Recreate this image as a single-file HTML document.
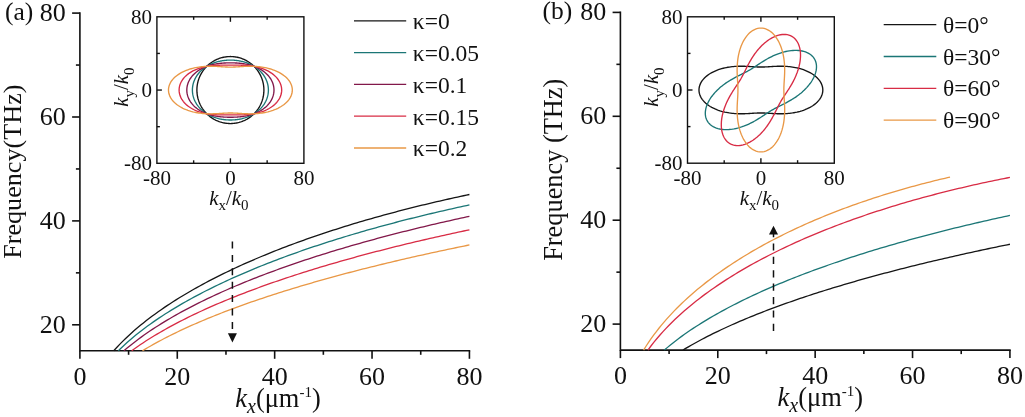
<!DOCTYPE html>
<html><head><meta charset="utf-8"><style>
html,body{margin:0;padding:0;background:#fff;}
svg{display:block;}
text{font-family:'Liberation Serif','Times New Roman',serif;fill:#111;}
.t25{font-size:26px;}
.t26{font-size:26.4px;}
.t20{font-size:21px;}
.t21{font-size:20.8px;}
.t22{font-size:23.5px;}
</style></head><body>
<svg width="1025" height="417" viewBox="0 0 1025 417">
<rect width="1025" height="417" fill="#fff"/>
<path d="M79.90,12.30 V350.80 H470.22" fill="none" stroke="#111" stroke-width="1.6" stroke-linejoin="miter"/>
<line x1="72.10" y1="13.10" x2="79.90" y2="13.10" stroke="#111" stroke-width="1.6"/>
<text x="65.70" y="21.10" text-anchor="end" class="t25">80</text>
<line x1="72.10" y1="117.00" x2="79.90" y2="117.00" stroke="#111" stroke-width="1.6"/>
<text x="65.70" y="125.00" text-anchor="end" class="t25">60</text>
<line x1="72.10" y1="220.90" x2="79.90" y2="220.90" stroke="#111" stroke-width="1.6"/>
<text x="65.70" y="228.90" text-anchor="end" class="t25">40</text>
<line x1="72.10" y1="324.80" x2="79.90" y2="324.80" stroke="#111" stroke-width="1.6"/>
<text x="65.70" y="332.80" text-anchor="end" class="t25">20</text>
<line x1="75.90" y1="65.05" x2="79.90" y2="65.05" stroke="#111" stroke-width="1.6"/>
<line x1="75.90" y1="168.95" x2="79.90" y2="168.95" stroke="#111" stroke-width="1.6"/>
<line x1="75.90" y1="272.85" x2="79.90" y2="272.85" stroke="#111" stroke-width="1.6"/>
<line x1="79.90" y1="350.80" x2="79.90" y2="358.80" stroke="#111" stroke-width="1.6"/>
<text x="79.90" y="384.80" text-anchor="middle" class="t25">0</text>
<line x1="177.28" y1="350.80" x2="177.28" y2="358.80" stroke="#111" stroke-width="1.6"/>
<text x="177.28" y="384.80" text-anchor="middle" class="t25">20</text>
<line x1="274.66" y1="350.80" x2="274.66" y2="358.80" stroke="#111" stroke-width="1.6"/>
<text x="274.66" y="384.80" text-anchor="middle" class="t25">40</text>
<line x1="372.04" y1="350.80" x2="372.04" y2="358.80" stroke="#111" stroke-width="1.6"/>
<text x="372.04" y="384.80" text-anchor="middle" class="t25">60</text>
<line x1="469.42" y1="350.80" x2="469.42" y2="358.80" stroke="#111" stroke-width="1.6"/>
<text x="469.42" y="384.80" text-anchor="middle" class="t25">80</text>
<line x1="128.59" y1="350.80" x2="128.59" y2="354.80" stroke="#111" stroke-width="1.6"/>
<line x1="225.97" y1="350.80" x2="225.97" y2="354.80" stroke="#111" stroke-width="1.6"/>
<line x1="323.35" y1="350.80" x2="323.35" y2="354.80" stroke="#111" stroke-width="1.6"/>
<line x1="420.73" y1="350.80" x2="420.73" y2="354.80" stroke="#111" stroke-width="1.6"/>
<text x="4.90" y="19.80" class="t26" style="font-size:25.5px">(a)</text>
<text transform="translate(21.20,171.70) rotate(-90)" text-anchor="middle" class="t26" style="font-size:26.17px">Frequency(THz)</text>
<text x="278.00" y="407.00" text-anchor="middle" class="t26"><tspan font-style="italic">k</tspan><tspan font-style="italic" font-size="20" dy="6">x</tspan><tspan dy="-6">(μm</tspan><tspan font-size="15" dy="-10">-1</tspan><tspan dy="10">)</tspan></text>
<path d="M113.75,350.78 L116.71,347.51 L119.67,344.38 L122.64,341.37 L125.60,338.48 L128.57,335.68 L131.53,332.98 L134.49,330.36 L137.46,327.81 L140.42,325.34 L143.39,322.94 L146.35,320.60 L149.31,318.31 L152.28,316.08 L155.24,313.91 L158.21,311.78 L161.17,309.69 L164.13,307.66 L167.10,305.66 L170.06,303.70 L173.03,301.78 L175.99,299.90 L178.95,298.05 L181.92,296.23 L184.88,294.45 L187.85,292.69 L190.81,290.97 L193.77,289.27 L196.74,287.60 L199.70,285.96 L202.66,284.34 L205.63,282.74 L208.59,281.17 L211.56,279.63 L214.52,278.10 L217.48,276.60 L220.45,275.11 L223.41,273.65 L226.38,272.21 L229.34,270.79 L232.30,269.38 L235.27,268.00 L238.23,266.63 L241.20,265.28 L244.16,263.94 L247.12,262.62 L250.09,261.32 L253.05,260.03 L256.02,258.76 L258.98,257.51 L261.94,256.27 L264.91,255.04 L267.87,253.83 L270.84,252.63 L273.80,251.44 L276.76,250.27 L279.73,249.11 L282.69,247.96 L285.66,246.83 L288.62,245.71 L291.58,244.60 L294.55,243.50 L297.51,242.41 L300.48,241.34 L303.44,240.27 L306.40,239.22 L309.37,238.18 L312.33,237.15 L315.29,236.13 L318.26,235.12 L321.22,234.12 L324.19,233.12 L327.15,232.14 L330.11,231.17 L333.08,230.21 L336.04,229.26 L339.01,228.32 L341.97,227.38 L344.93,226.46 L347.90,225.54 L350.86,224.64 L353.83,223.74 L356.79,222.85 L359.75,221.97 L362.72,221.09 L365.68,220.23 L368.65,219.37 L371.61,218.52 L374.57,217.68 L377.54,216.85 L380.50,216.02 L383.47,215.21 L386.43,214.40 L389.39,213.59 L392.36,212.80 L395.32,212.01 L398.29,211.23 L401.25,210.46 L404.21,209.69 L407.18,208.93 L410.14,208.18 L413.11,207.44 L416.07,206.70 L419.03,205.96 L422.00,205.24 L424.96,204.52 L427.92,203.81 L430.89,203.10 L433.85,202.40 L436.82,201.71 L439.78,201.02 L442.74,200.34 L445.71,199.67 L448.67,199.00 L451.64,198.34 L454.60,197.68 L457.56,197.03 L460.53,196.39 L463.49,195.75 L466.46,195.12 L469.42,194.49" fill="none" stroke="#151515" stroke-width="1.3"/>
<path d="M118.30,350.78 L121.22,347.92 L124.15,345.18 L127.07,342.53 L130.00,339.97 L132.93,337.48 L135.85,335.07 L138.78,332.73 L141.70,330.45 L144.63,328.23 L147.56,326.07 L150.48,323.96 L153.41,321.89 L156.33,319.87 L159.26,317.90 L162.19,315.97 L165.11,314.07 L168.04,312.21 L170.96,310.39 L173.89,308.60 L176.82,306.84 L179.74,305.12 L182.67,303.42 L185.60,301.75 L188.52,300.11 L191.45,298.50 L194.37,296.91 L197.30,295.34 L200.23,293.80 L203.15,292.28 L206.08,290.78 L209.00,289.31 L211.93,287.85 L214.86,286.42 L217.78,285.00 L220.71,283.60 L223.63,282.23 L226.56,280.86 L229.49,279.52 L232.41,278.19 L235.34,276.88 L238.26,275.59 L241.19,274.31 L244.12,273.04 L247.04,271.80 L249.97,270.56 L252.89,269.34 L255.82,268.13 L258.75,266.94 L261.67,265.76 L264.60,264.59 L267.52,263.44 L270.45,262.29 L273.38,261.16 L276.30,260.05 L279.23,258.94 L282.15,257.84 L285.08,256.76 L288.01,255.68 L290.93,254.62 L293.86,253.57 L296.78,252.53 L299.71,251.50 L302.64,250.48 L305.56,249.46 L308.49,248.46 L311.41,247.47 L314.34,246.49 L317.27,245.51 L320.19,244.55 L323.12,243.59 L326.04,242.65 L328.97,241.71 L331.90,240.78 L334.82,239.86 L337.75,238.94 L340.67,238.04 L343.60,237.14 L346.53,236.25 L349.45,235.37 L352.38,234.50 L355.30,233.63 L358.23,232.77 L361.16,231.92 L364.08,231.08 L367.01,230.24 L369.93,229.41 L372.86,228.59 L375.79,227.77 L378.71,226.97 L381.64,226.16 L384.57,225.37 L387.49,224.58 L390.42,223.80 L393.34,223.02 L396.27,222.25 L399.20,221.49 L402.12,220.74 L405.05,219.99 L407.97,219.24 L410.90,218.50 L413.83,217.77 L416.75,217.05 L419.68,216.33 L422.60,215.61 L425.53,214.90 L428.46,214.20 L431.38,213.50 L434.31,212.81 L437.23,212.13 L440.16,211.45 L443.09,210.77 L446.01,210.10 L448.94,209.44 L451.86,208.78 L454.79,208.12 L457.72,207.48 L460.64,206.83 L463.57,206.19 L466.49,205.56 L469.42,204.93" fill="none" stroke="#1b7676" stroke-width="1.3"/>
<path d="M123.94,350.78 L126.82,348.32 L129.69,345.95 L132.57,343.65 L135.45,341.41 L138.33,339.24 L141.21,337.12 L144.09,335.06 L146.97,333.05 L149.85,331.08 L152.73,329.16 L155.61,327.28 L158.48,325.44 L161.36,323.64 L164.24,321.87 L167.12,320.14 L170.00,318.44 L172.88,316.76 L175.76,315.12 L178.64,313.51 L181.52,311.92 L184.40,310.36 L187.28,308.82 L190.15,307.31 L193.03,305.82 L195.91,304.35 L198.79,302.91 L201.67,301.48 L204.55,300.08 L207.43,298.69 L210.31,297.32 L213.19,295.97 L216.07,294.64 L218.94,293.32 L221.82,292.03 L224.70,290.74 L227.58,289.48 L230.46,288.22 L233.34,286.99 L236.22,285.77 L239.10,284.56 L241.98,283.36 L244.86,282.18 L247.73,281.01 L250.61,279.86 L253.49,278.71 L256.37,277.58 L259.25,276.46 L262.13,275.36 L265.01,274.26 L267.89,273.18 L270.77,272.10 L273.65,271.04 L276.53,269.99 L279.40,268.94 L282.28,267.91 L285.16,266.89 L288.04,265.87 L290.92,264.87 L293.80,263.88 L296.68,262.89 L299.56,261.92 L302.44,260.95 L305.32,259.99 L308.19,259.04 L311.07,258.10 L313.95,257.17 L316.83,256.24 L319.71,255.32 L322.59,254.41 L325.47,253.51 L328.35,252.62 L331.23,251.73 L334.11,250.85 L336.98,249.98 L339.86,249.12 L342.74,248.26 L345.62,247.41 L348.50,246.57 L351.38,245.73 L354.26,244.90 L357.14,244.08 L360.02,243.26 L362.90,242.45 L365.77,241.65 L368.65,240.85 L371.53,240.06 L374.41,239.27 L377.29,238.49 L380.17,237.72 L383.05,236.95 L385.93,236.19 L388.81,235.43 L391.69,234.68 L394.57,233.94 L397.44,233.20 L400.32,232.46 L403.20,231.74 L406.08,231.01 L408.96,230.30 L411.84,229.58 L414.72,228.88 L417.60,228.17 L420.48,227.48 L423.36,226.79 L426.23,226.10 L429.11,225.42 L431.99,224.74 L434.87,224.07 L437.75,223.40 L440.63,222.74 L443.51,222.08 L446.39,221.43 L449.27,220.78 L452.15,220.13 L455.02,219.49 L457.90,218.86 L460.78,218.23 L463.66,217.60 L466.54,216.98 L469.42,216.36" fill="none" stroke="#82184a" stroke-width="1.3"/>
<path d="M131.72,350.78 L134.53,348.73 L137.34,346.74 L140.16,344.81 L142.97,342.92 L145.79,341.07 L148.60,339.27 L151.42,337.51 L154.23,335.79 L157.04,334.10 L159.86,332.44 L162.67,330.82 L165.49,329.22 L168.30,327.66 L171.12,326.12 L173.93,324.61 L176.74,323.12 L179.56,321.66 L182.37,320.22 L185.19,318.80 L188.00,317.41 L190.81,316.03 L193.63,314.67 L196.44,313.34 L199.26,312.02 L202.07,310.72 L204.89,309.44 L207.70,308.17 L210.51,306.92 L213.33,305.69 L216.14,304.47 L218.96,303.26 L221.77,302.07 L224.58,300.90 L227.40,299.73 L230.21,298.59 L233.03,297.45 L235.84,296.33 L238.66,295.21 L241.47,294.11 L244.28,293.03 L247.10,291.95 L249.91,290.88 L252.73,289.83 L255.54,288.78 L258.36,287.75 L261.17,286.73 L263.98,285.71 L266.80,284.71 L269.61,283.71 L272.43,282.73 L275.24,281.75 L278.05,280.78 L280.87,279.82 L283.68,278.87 L286.50,277.93 L289.31,277.00 L292.13,276.07 L294.94,275.16 L297.75,274.25 L300.57,273.35 L303.38,272.45 L306.20,271.56 L309.01,270.68 L311.82,269.81 L314.64,268.95 L317.45,268.09 L320.27,267.24 L323.08,266.39 L325.90,265.55 L328.71,264.72 L331.52,263.90 L334.34,263.08 L337.15,262.26 L339.97,261.46 L342.78,260.66 L345.60,259.86 L348.41,259.07 L351.22,258.29 L354.04,257.51 L356.85,256.74 L359.67,255.98 L362.48,255.22 L365.29,254.46 L368.11,253.71 L370.92,252.97 L373.74,252.23 L376.55,251.49 L379.37,250.76 L382.18,250.04 L384.99,249.32 L387.81,248.61 L390.62,247.90 L393.44,247.19 L396.25,246.49 L399.07,245.80 L401.88,245.11 L404.69,244.42 L407.51,243.74 L410.32,243.06 L413.14,242.39 L415.95,241.72 L418.76,241.06 L421.58,240.40 L424.39,239.75 L427.21,239.09 L430.02,238.45 L432.84,237.81 L435.65,237.17 L438.46,236.53 L441.28,235.90 L444.09,235.27 L446.91,234.65 L449.72,234.03 L452.53,233.42 L455.35,232.81 L458.16,232.20 L460.98,231.60 L463.79,231.00 L466.61,230.40 L469.42,229.81" fill="none" stroke="#d82c45" stroke-width="1.3"/>
<path d="M142.46,350.78 L145.19,349.13 L147.91,347.52 L150.64,345.95 L153.36,344.41 L156.09,342.90 L158.81,341.42 L161.54,339.96 L164.26,338.54 L166.98,337.13 L169.71,335.75 L172.43,334.40 L175.16,333.06 L177.88,331.75 L180.61,330.45 L183.33,329.18 L186.06,327.92 L188.78,326.68 L191.51,325.46 L194.23,324.25 L196.96,323.06 L199.68,321.89 L202.40,320.73 L205.13,319.59 L207.85,318.46 L210.58,317.34 L213.30,316.24 L216.03,315.15 L218.75,314.07 L221.48,313.00 L224.20,311.95 L226.93,310.90 L229.65,309.87 L232.38,308.85 L235.10,307.84 L237.83,306.84 L240.55,305.85 L243.27,304.87 L246.00,303.90 L248.72,302.94 L251.45,301.98 L254.17,301.04 L256.90,300.11 L259.62,299.18 L262.35,298.26 L265.07,297.35 L267.80,296.45 L270.52,295.56 L273.25,294.67 L275.97,293.80 L278.69,292.92 L281.42,292.06 L284.14,291.20 L286.87,290.36 L289.59,289.51 L292.32,288.68 L295.04,287.85 L297.77,287.03 L300.49,286.21 L303.22,285.40 L305.94,284.60 L308.67,283.80 L311.39,283.01 L314.12,282.22 L316.84,281.44 L319.56,280.67 L322.29,279.90 L325.01,279.13 L327.74,278.38 L330.46,277.62 L333.19,276.88 L335.91,276.14 L338.64,275.40 L341.36,274.67 L344.09,273.94 L346.81,273.22 L349.54,272.50 L352.26,271.79 L354.98,271.08 L357.71,270.38 L360.43,269.68 L363.16,268.99 L365.88,268.30 L368.61,267.61 L371.33,266.93 L374.06,266.26 L376.78,265.59 L379.51,264.92 L382.23,264.25 L384.96,263.59 L387.68,262.94 L390.41,262.29 L393.13,261.64 L395.85,261.00 L398.58,260.36 L401.30,259.72 L404.03,259.09 L406.75,258.46 L409.48,257.84 L412.20,257.22 L414.93,256.60 L417.65,255.98 L420.38,255.37 L423.10,254.77 L425.83,254.16 L428.55,253.56 L431.27,252.97 L434.00,252.37 L436.72,251.78 L439.45,251.20 L442.17,250.61 L444.90,250.03 L447.62,249.46 L450.35,248.88 L453.07,248.31 L455.80,247.75 L458.52,247.18 L461.25,246.62 L463.97,246.06 L466.70,245.51 L469.42,244.95" fill="none" stroke="#e99846" stroke-width="1.3"/>
<line x1="232.4" y1="241.5" x2="232.4" y2="334" stroke="#111" stroke-width="1.5" stroke-dasharray="7 6.4"/>
<path d="M227.9,333.2 L236.9,333.2 L232.4,342.6 Z" fill="#111"/>
<rect x="156.90" y="16.80" width="147.00" height="146.50" fill="none" stroke="#111" stroke-width="1.4"/>
<line x1="193.65" y1="163.30" x2="193.65" y2="160.30" stroke="#111" stroke-width="1.4"/>
<line x1="193.65" y1="16.80" x2="193.65" y2="19.80" stroke="#111" stroke-width="1.4"/>
<line x1="156.90" y1="126.68" x2="159.90" y2="126.68" stroke="#111" stroke-width="1.4"/>
<line x1="230.40" y1="163.30" x2="230.40" y2="158.30" stroke="#111" stroke-width="1.4"/>
<line x1="230.40" y1="16.80" x2="230.40" y2="21.80" stroke="#111" stroke-width="1.4"/>
<line x1="156.90" y1="90.05" x2="161.90" y2="90.05" stroke="#111" stroke-width="1.4"/>
<line x1="267.15" y1="163.30" x2="267.15" y2="160.30" stroke="#111" stroke-width="1.4"/>
<line x1="267.15" y1="16.80" x2="267.15" y2="19.80" stroke="#111" stroke-width="1.4"/>
<line x1="156.90" y1="53.43" x2="159.90" y2="53.43" stroke="#111" stroke-width="1.4"/>
<text x="151.90" y="23.60" text-anchor="end" class="t20">80</text>
<text x="303.90" y="185.30" text-anchor="middle" class="t20">80</text>
<text x="151.90" y="96.85" text-anchor="end" class="t20">0</text>
<text x="230.40" y="185.30" text-anchor="middle" class="t20">0</text>
<text x="151.90" y="170.10" text-anchor="end" class="t20">-80</text>
<text x="156.90" y="185.30" text-anchor="middle" class="t20">-80</text>
<text x="228.90" y="204.70" text-anchor="middle" class="t21"><tspan font-style="italic">k</tspan><tspan font-size="15" dy="5.7">x</tspan><tspan dy="-5.7">/</tspan><tspan font-style="italic">k</tspan><tspan font-size="15" dy="5.7">0</tspan></text>
<text transform="translate(127.70,87.05) rotate(-90)" text-anchor="middle" class="t21"><tspan font-style="italic">k</tspan><tspan font-size="15" dy="6">y</tspan><tspan dy="-6">/</tspan><tspan font-style="italic">k</tspan><tspan font-size="15" dy="6">0</tspan></text>
<path d="M263.90,90.05 L263.89,89.17 L263.85,88.30 L263.80,87.42 L263.72,86.55 L263.61,85.68 L263.49,84.81 L263.34,83.95 L263.17,83.08 L262.97,82.23 L262.76,81.38 L262.52,80.54 L262.26,79.70 L261.98,78.87 L261.67,78.04 L261.35,77.23 L261.00,76.42 L260.64,75.63 L260.25,74.84 L259.84,74.07 L259.41,73.30 L258.96,72.55 L258.50,71.80 L258.01,71.08 L257.50,70.36 L256.98,69.66 L256.43,68.97 L255.87,68.29 L255.30,67.63 L254.70,66.99 L254.09,66.36 L253.46,65.75 L252.82,65.15 L252.16,64.58 L251.48,64.02 L250.79,63.47 L250.09,62.95 L249.37,62.44 L248.65,61.95 L247.90,61.49 L247.15,61.04 L246.38,60.61 L245.61,60.20 L244.82,59.81 L244.03,59.45 L243.22,59.10 L242.41,58.78 L241.58,58.47 L240.75,58.19 L239.91,57.93 L239.07,57.69 L238.22,57.48 L237.37,57.28 L236.50,57.11 L235.64,56.96 L234.77,56.84 L233.90,56.73 L233.03,56.65 L232.15,56.60 L231.28,56.56 L230.40,56.55 L229.52,56.56 L228.65,56.60 L227.77,56.65 L226.90,56.73 L226.03,56.84 L225.16,56.96 L224.30,57.11 L223.43,57.28 L222.58,57.48 L221.73,57.69 L220.89,57.93 L220.05,58.19 L219.22,58.47 L218.39,58.78 L217.58,59.10 L216.77,59.45 L215.98,59.81 L215.19,60.20 L214.42,60.61 L213.65,61.04 L212.90,61.49 L212.15,61.95 L211.43,62.44 L210.71,62.95 L210.01,63.47 L209.32,64.02 L208.64,64.58 L207.98,65.15 L207.34,65.75 L206.71,66.36 L206.10,66.99 L205.50,67.63 L204.93,68.29 L204.37,68.97 L203.82,69.66 L203.30,70.36 L202.79,71.08 L202.30,71.80 L201.84,72.55 L201.39,73.30 L200.96,74.07 L200.55,74.84 L200.16,75.63 L199.80,76.42 L199.45,77.23 L199.13,78.04 L198.82,78.87 L198.54,79.70 L198.28,80.54 L198.04,81.38 L197.83,82.23 L197.63,83.08 L197.46,83.95 L197.31,84.81 L197.19,85.68 L197.08,86.55 L197.00,87.42 L196.95,88.30 L196.91,89.17 L196.90,90.05 L196.91,90.93 L196.95,91.80 L197.00,92.68 L197.08,93.55 L197.19,94.42 L197.31,95.29 L197.46,96.15 L197.63,97.02 L197.83,97.87 L198.04,98.72 L198.28,99.56 L198.54,100.40 L198.82,101.23 L199.13,102.06 L199.45,102.87 L199.80,103.68 L200.16,104.47 L200.55,105.26 L200.96,106.03 L201.39,106.80 L201.84,107.55 L202.30,108.30 L202.79,109.02 L203.30,109.74 L203.82,110.44 L204.37,111.13 L204.93,111.81 L205.50,112.47 L206.10,113.11 L206.71,113.74 L207.34,114.35 L207.98,114.95 L208.64,115.52 L209.32,116.08 L210.01,116.63 L210.71,117.15 L211.43,117.66 L212.15,118.15 L212.90,118.61 L213.65,119.06 L214.42,119.49 L215.19,119.90 L215.98,120.29 L216.77,120.65 L217.58,121.00 L218.39,121.32 L219.22,121.63 L220.05,121.91 L220.89,122.17 L221.73,122.41 L222.58,122.62 L223.43,122.82 L224.30,122.99 L225.16,123.14 L226.03,123.26 L226.90,123.37 L227.77,123.45 L228.65,123.50 L229.52,123.54 L230.40,123.55 L231.28,123.54 L232.15,123.50 L233.03,123.45 L233.90,123.37 L234.77,123.26 L235.64,123.14 L236.50,122.99 L237.37,122.82 L238.22,122.62 L239.07,122.41 L239.91,122.17 L240.75,121.91 L241.58,121.63 L242.41,121.32 L243.22,121.00 L244.03,120.65 L244.82,120.29 L245.61,119.90 L246.38,119.49 L247.15,119.06 L247.90,118.61 L248.65,118.15 L249.37,117.66 L250.09,117.15 L250.79,116.63 L251.48,116.08 L252.16,115.52 L252.82,114.95 L253.46,114.35 L254.09,113.74 L254.70,113.11 L255.30,112.47 L255.87,111.81 L256.43,111.13 L256.98,110.44 L257.50,109.74 L258.01,109.02 L258.50,108.30 L258.96,107.55 L259.41,106.80 L259.84,106.03 L260.25,105.26 L260.64,104.47 L261.00,103.68 L261.35,102.87 L261.67,102.06 L261.98,101.23 L262.26,100.40 L262.52,99.56 L262.76,98.72 L262.97,97.87 L263.17,97.02 L263.34,96.15 L263.49,95.29 L263.61,94.42 L263.72,93.55 L263.80,92.68 L263.85,91.80 L263.89,90.93 Z" fill="none" stroke="#151515" stroke-width="1.35"/>
<path d="M268.40,90.05 L268.38,89.06 L268.32,88.06 L268.22,87.07 L268.08,86.09 L267.91,85.11 L267.69,84.14 L267.44,83.19 L267.15,82.24 L266.82,81.31 L266.46,80.39 L266.06,79.49 L265.64,78.60 L265.18,77.73 L264.70,76.89 L264.18,76.06 L263.64,75.25 L263.07,74.47 L262.48,73.70 L261.87,72.96 L261.24,72.25 L260.59,71.55 L259.92,70.88 L259.23,70.23 L258.53,69.61 L257.82,69.01 L257.09,68.44 L256.35,67.88 L255.61,67.35 L254.85,66.85 L254.09,66.36 L253.32,65.90 L252.54,65.46 L251.76,65.04 L250.98,64.64 L250.19,64.26 L249.40,63.91 L248.60,63.57 L247.81,63.25 L247.01,62.94 L246.21,62.66 L245.42,62.39 L244.62,62.14 L243.82,61.91 L243.02,61.69 L242.23,61.49 L241.43,61.31 L240.64,61.13 L239.85,60.98 L239.05,60.83 L238.26,60.70 L237.47,60.59 L236.68,60.48 L235.90,60.39 L235.11,60.31 L234.32,60.25 L233.54,60.19 L232.75,60.15 L231.97,60.12 L231.18,60.11 L230.40,60.10 L229.62,60.11 L228.83,60.12 L228.05,60.15 L227.26,60.19 L226.48,60.25 L225.69,60.31 L224.90,60.39 L224.12,60.48 L223.33,60.59 L222.54,60.70 L221.75,60.83 L220.95,60.98 L220.16,61.13 L219.37,61.31 L218.57,61.49 L217.78,61.69 L216.98,61.91 L216.18,62.14 L215.38,62.39 L214.59,62.66 L213.79,62.94 L212.99,63.25 L212.20,63.57 L211.40,63.91 L210.61,64.26 L209.82,64.64 L209.04,65.04 L208.26,65.46 L207.48,65.90 L206.71,66.36 L205.95,66.85 L205.19,67.35 L204.45,67.88 L203.71,68.44 L202.98,69.01 L202.27,69.61 L201.57,70.23 L200.88,70.88 L200.21,71.55 L199.56,72.25 L198.93,72.96 L198.32,73.70 L197.73,74.47 L197.16,75.25 L196.62,76.06 L196.10,76.89 L195.62,77.73 L195.16,78.60 L194.74,79.49 L194.34,80.39 L193.98,81.31 L193.65,82.24 L193.36,83.19 L193.11,84.14 L192.89,85.11 L192.72,86.09 L192.58,87.07 L192.48,88.06 L192.42,89.06 L192.40,90.05 L192.42,91.04 L192.48,92.04 L192.58,93.03 L192.72,94.01 L192.89,94.99 L193.11,95.96 L193.36,96.91 L193.65,97.86 L193.98,98.79 L194.34,99.71 L194.74,100.61 L195.16,101.50 L195.62,102.37 L196.10,103.21 L196.62,104.04 L197.16,104.85 L197.73,105.63 L198.32,106.40 L198.93,107.14 L199.56,107.85 L200.21,108.55 L200.88,109.22 L201.57,109.87 L202.27,110.49 L202.98,111.09 L203.71,111.66 L204.45,112.22 L205.19,112.75 L205.95,113.25 L206.71,113.74 L207.48,114.20 L208.26,114.64 L209.04,115.06 L209.82,115.46 L210.61,115.84 L211.40,116.19 L212.20,116.53 L212.99,116.85 L213.79,117.16 L214.59,117.44 L215.38,117.71 L216.18,117.96 L216.98,118.19 L217.78,118.41 L218.57,118.61 L219.37,118.79 L220.16,118.97 L220.95,119.12 L221.75,119.27 L222.54,119.40 L223.33,119.51 L224.12,119.62 L224.90,119.71 L225.69,119.79 L226.48,119.85 L227.26,119.91 L228.05,119.95 L228.83,119.98 L229.62,119.99 L230.40,120.00 L231.18,119.99 L231.97,119.98 L232.75,119.95 L233.54,119.91 L234.32,119.85 L235.11,119.79 L235.90,119.71 L236.68,119.62 L237.47,119.51 L238.26,119.40 L239.05,119.27 L239.85,119.12 L240.64,118.97 L241.43,118.79 L242.23,118.61 L243.02,118.41 L243.82,118.19 L244.62,117.96 L245.42,117.71 L246.21,117.44 L247.01,117.16 L247.81,116.85 L248.60,116.53 L249.40,116.19 L250.19,115.84 L250.98,115.46 L251.76,115.06 L252.54,114.64 L253.32,114.20 L254.09,113.74 L254.85,113.25 L255.61,112.75 L256.35,112.22 L257.09,111.66 L257.82,111.09 L258.53,110.49 L259.23,109.87 L259.92,109.22 L260.59,108.55 L261.24,107.85 L261.87,107.14 L262.48,106.40 L263.07,105.63 L263.64,104.85 L264.18,104.04 L264.70,103.21 L265.18,102.37 L265.64,101.50 L266.06,100.61 L266.46,99.71 L266.82,98.79 L267.15,97.86 L267.44,96.91 L267.69,95.96 L267.91,94.99 L268.08,94.01 L268.22,93.03 L268.32,92.04 L268.38,91.04 Z" fill="none" stroke="#1b7676" stroke-width="1.35"/>
<path d="M273.99,90.05 L273.95,88.91 L273.85,87.77 L273.69,86.64 L273.46,85.52 L273.17,84.42 L272.82,83.33 L272.42,82.26 L271.95,81.22 L271.43,80.20 L270.87,79.21 L270.26,78.24 L269.60,77.31 L268.90,76.42 L268.17,75.55 L267.40,74.72 L266.61,73.93 L265.79,73.17 L264.95,72.45 L264.09,71.76 L263.21,71.11 L262.32,70.49 L261.41,69.91 L260.50,69.36 L259.59,68.84 L258.67,68.36 L257.75,67.90 L256.83,67.48 L255.91,67.08 L255.00,66.71 L254.09,66.36 L253.18,66.04 L252.29,65.74 L251.40,65.47 L250.51,65.21 L249.64,64.97 L248.78,64.76 L247.92,64.56 L247.08,64.37 L246.24,64.20 L245.41,64.05 L244.60,63.90 L243.79,63.78 L242.99,63.66 L242.20,63.55 L241.42,63.45 L240.64,63.36 L239.88,63.28 L239.12,63.21 L238.37,63.15 L237.62,63.09 L236.88,63.04 L236.15,63.00 L235.42,62.96 L234.70,62.93 L233.97,62.90 L233.26,62.88 L232.54,62.87 L231.83,62.85 L231.11,62.85 L230.40,62.85 L229.69,62.85 L228.97,62.85 L228.26,62.87 L227.54,62.88 L226.83,62.90 L226.10,62.93 L225.38,62.96 L224.65,63.00 L223.92,63.04 L223.18,63.09 L222.43,63.15 L221.68,63.21 L220.92,63.28 L220.16,63.36 L219.38,63.45 L218.60,63.55 L217.81,63.66 L217.01,63.78 L216.20,63.90 L215.39,64.05 L214.56,64.20 L213.72,64.37 L212.88,64.56 L212.02,64.76 L211.16,64.97 L210.29,65.21 L209.40,65.47 L208.51,65.74 L207.62,66.04 L206.71,66.36 L205.80,66.71 L204.89,67.08 L203.97,67.48 L203.05,67.90 L202.13,68.36 L201.21,68.84 L200.30,69.36 L199.39,69.91 L198.48,70.49 L197.59,71.11 L196.71,71.76 L195.85,72.45 L195.01,73.17 L194.19,73.93 L193.40,74.72 L192.63,75.55 L191.90,76.42 L191.20,77.31 L190.54,78.24 L189.93,79.21 L189.37,80.20 L188.85,81.22 L188.38,82.26 L187.98,83.33 L187.63,84.42 L187.34,85.52 L187.11,86.64 L186.95,87.77 L186.85,88.91 L186.81,90.05 L186.85,91.19 L186.95,92.33 L187.11,93.46 L187.34,94.58 L187.63,95.68 L187.98,96.77 L188.38,97.84 L188.85,98.88 L189.37,99.90 L189.93,100.89 L190.54,101.86 L191.20,102.79 L191.90,103.68 L192.63,104.55 L193.40,105.38 L194.19,106.17 L195.01,106.93 L195.85,107.65 L196.71,108.34 L197.59,108.99 L198.48,109.61 L199.39,110.19 L200.30,110.74 L201.21,111.26 L202.13,111.74 L203.05,112.20 L203.97,112.62 L204.89,113.02 L205.80,113.39 L206.71,113.74 L207.62,114.06 L208.51,114.36 L209.40,114.63 L210.29,114.89 L211.16,115.13 L212.02,115.34 L212.88,115.54 L213.72,115.73 L214.56,115.90 L215.39,116.05 L216.20,116.20 L217.01,116.32 L217.81,116.44 L218.60,116.55 L219.38,116.65 L220.16,116.74 L220.92,116.82 L221.68,116.89 L222.43,116.95 L223.18,117.01 L223.92,117.06 L224.65,117.10 L225.38,117.14 L226.10,117.17 L226.83,117.20 L227.54,117.22 L228.26,117.23 L228.97,117.25 L229.69,117.25 L230.40,117.25 L231.11,117.25 L231.83,117.25 L232.54,117.23 L233.26,117.22 L233.97,117.20 L234.70,117.17 L235.42,117.14 L236.15,117.10 L236.88,117.06 L237.62,117.01 L238.37,116.95 L239.12,116.89 L239.88,116.82 L240.64,116.74 L241.42,116.65 L242.20,116.55 L242.99,116.44 L243.79,116.32 L244.60,116.20 L245.41,116.05 L246.24,115.90 L247.08,115.73 L247.92,115.54 L248.78,115.34 L249.64,115.13 L250.51,114.89 L251.40,114.63 L252.29,114.36 L253.18,114.06 L254.09,113.74 L255.00,113.39 L255.91,113.02 L256.83,112.62 L257.75,112.20 L258.67,111.74 L259.59,111.26 L260.50,110.74 L261.41,110.19 L262.32,109.61 L263.21,108.99 L264.09,108.34 L264.95,107.65 L265.79,106.93 L266.61,106.17 L267.40,105.38 L268.17,104.55 L268.90,103.68 L269.60,102.79 L270.26,101.86 L270.87,100.89 L271.43,99.90 L271.95,98.88 L272.42,97.84 L272.82,96.77 L273.17,95.68 L273.46,94.58 L273.69,93.46 L273.85,92.33 L273.95,91.19 Z" fill="none" stroke="#82184a" stroke-width="1.35"/>
<path d="M281.69,90.05 L281.63,88.71 L281.47,87.37 L281.20,86.05 L280.82,84.75 L280.34,83.47 L279.77,82.23 L279.11,81.02 L278.36,79.86 L277.54,78.73 L276.65,77.66 L275.69,76.63 L274.69,75.66 L273.63,74.74 L272.53,73.88 L271.41,73.06 L270.25,72.31 L269.08,71.60 L267.89,70.95 L266.70,70.34 L265.50,69.79 L264.30,69.28 L263.11,68.81 L261.93,68.38 L260.76,68.00 L259.60,67.65 L258.46,67.33 L257.33,67.05 L256.23,66.79 L255.15,66.56 L254.09,66.36 L253.05,66.18 L252.03,66.03 L251.04,65.89 L250.06,65.77 L249.11,65.66 L248.18,65.57 L247.28,65.49 L246.39,65.43 L245.52,65.37 L244.67,65.33 L243.85,65.29 L243.03,65.26 L242.24,65.23 L241.46,65.21 L240.70,65.20 L239.95,65.18 L239.21,65.18 L238.48,65.17 L237.77,65.17 L237.07,65.17 L236.37,65.17 L235.69,65.17 L235.01,65.17 L234.34,65.17 L233.68,65.17 L233.01,65.17 L232.36,65.17 L231.70,65.18 L231.05,65.18 L230.40,65.18 L229.75,65.18 L229.10,65.18 L228.44,65.17 L227.79,65.17 L227.12,65.17 L226.46,65.17 L225.79,65.17 L225.11,65.17 L224.43,65.17 L223.73,65.17 L223.03,65.17 L222.32,65.17 L221.59,65.18 L220.85,65.18 L220.10,65.20 L219.34,65.21 L218.56,65.23 L217.77,65.26 L216.95,65.29 L216.13,65.33 L215.28,65.37 L214.41,65.43 L213.52,65.49 L212.62,65.57 L211.69,65.66 L210.74,65.77 L209.76,65.89 L208.77,66.03 L207.75,66.18 L206.71,66.36 L205.65,66.56 L204.57,66.79 L203.47,67.05 L202.34,67.33 L201.20,67.65 L200.04,68.00 L198.87,68.38 L197.69,68.81 L196.50,69.28 L195.30,69.79 L194.10,70.34 L192.91,70.95 L191.72,71.60 L190.55,72.31 L189.39,73.06 L188.27,73.88 L187.17,74.74 L186.11,75.66 L185.11,76.63 L184.15,77.66 L183.26,78.73 L182.44,79.86 L181.69,81.02 L181.03,82.23 L180.46,83.47 L179.98,84.75 L179.60,86.05 L179.33,87.37 L179.17,88.71 L179.11,90.05 L179.17,91.39 L179.33,92.73 L179.60,94.05 L179.98,95.35 L180.46,96.63 L181.03,97.87 L181.69,99.08 L182.44,100.24 L183.26,101.37 L184.15,102.44 L185.11,103.47 L186.11,104.44 L187.17,105.36 L188.27,106.22 L189.39,107.04 L190.55,107.79 L191.72,108.50 L192.91,109.15 L194.10,109.76 L195.30,110.31 L196.50,110.82 L197.69,111.29 L198.87,111.72 L200.04,112.10 L201.20,112.45 L202.34,112.77 L203.47,113.05 L204.57,113.31 L205.65,113.54 L206.71,113.74 L207.75,113.92 L208.77,114.07 L209.76,114.21 L210.74,114.33 L211.69,114.44 L212.62,114.53 L213.52,114.61 L214.41,114.67 L215.28,114.73 L216.13,114.77 L216.95,114.81 L217.77,114.84 L218.56,114.87 L219.34,114.89 L220.10,114.90 L220.85,114.92 L221.59,114.92 L222.32,114.93 L223.03,114.93 L223.73,114.93 L224.43,114.93 L225.11,114.93 L225.79,114.93 L226.46,114.93 L227.12,114.93 L227.79,114.93 L228.44,114.93 L229.10,114.92 L229.75,114.92 L230.40,114.92 L231.05,114.92 L231.70,114.92 L232.36,114.93 L233.01,114.93 L233.68,114.93 L234.34,114.93 L235.01,114.93 L235.69,114.93 L236.37,114.93 L237.07,114.93 L237.77,114.93 L238.48,114.93 L239.21,114.92 L239.95,114.92 L240.70,114.90 L241.46,114.89 L242.24,114.87 L243.03,114.84 L243.85,114.81 L244.67,114.77 L245.52,114.73 L246.39,114.67 L247.28,114.61 L248.18,114.53 L249.11,114.44 L250.06,114.33 L251.04,114.21 L252.03,114.07 L253.05,113.92 L254.09,113.74 L255.15,113.54 L256.23,113.31 L257.33,113.05 L258.46,112.77 L259.60,112.45 L260.76,112.10 L261.93,111.72 L263.11,111.29 L264.30,110.82 L265.50,110.31 L266.70,109.76 L267.89,109.15 L269.08,108.50 L270.25,107.79 L271.41,107.04 L272.53,106.22 L273.63,105.36 L274.69,104.44 L275.69,103.47 L276.65,102.44 L277.54,101.37 L278.36,100.24 L279.11,99.08 L279.77,97.87 L280.34,96.63 L280.82,95.35 L281.20,94.05 L281.47,92.73 L281.63,91.39 Z" fill="none" stroke="#d82c45" stroke-width="1.35"/>
<path d="M292.32,90.05 L292.23,88.43 L291.95,86.82 L291.49,85.24 L290.86,83.70 L290.07,82.19 L289.12,80.75 L288.04,79.37 L286.83,78.06 L285.51,76.82 L284.11,75.66 L282.62,74.58 L281.08,73.58 L279.49,72.67 L277.87,71.83 L276.22,71.07 L274.57,70.38 L272.92,69.77 L271.28,69.22 L269.65,68.74 L268.05,68.31 L266.48,67.94 L264.94,67.62 L263.44,67.34 L261.98,67.10 L260.56,66.91 L259.18,66.74 L257.84,66.61 L256.55,66.50 L255.30,66.42 L254.09,66.36 L252.92,66.32 L251.79,66.29 L250.70,66.28 L249.65,66.28 L248.63,66.29 L247.64,66.31 L246.69,66.34 L245.78,66.37 L244.89,66.41 L244.02,66.45 L243.19,66.50 L242.38,66.54 L241.59,66.59 L240.82,66.64 L240.08,66.68 L239.35,66.73 L238.64,66.77 L237.95,66.82 L237.27,66.86 L236.60,66.90 L235.95,66.93 L235.31,66.96 L234.67,66.99 L234.05,67.02 L233.43,67.04 L232.82,67.06 L232.21,67.07 L231.60,67.08 L231.00,67.09 L230.40,67.09 L229.80,67.09 L229.20,67.08 L228.59,67.07 L227.98,67.06 L227.37,67.04 L226.75,67.02 L226.13,66.99 L225.49,66.96 L224.85,66.93 L224.20,66.90 L223.53,66.86 L222.85,66.82 L222.16,66.77 L221.45,66.73 L220.72,66.68 L219.98,66.64 L219.21,66.59 L218.42,66.54 L217.61,66.50 L216.78,66.45 L215.91,66.41 L215.02,66.37 L214.11,66.34 L213.16,66.31 L212.17,66.29 L211.15,66.28 L210.10,66.28 L209.01,66.29 L207.88,66.32 L206.71,66.36 L205.50,66.42 L204.25,66.50 L202.96,66.61 L201.62,66.74 L200.24,66.91 L198.82,67.10 L197.36,67.34 L195.86,67.62 L194.32,67.94 L192.75,68.31 L191.15,68.74 L189.52,69.22 L187.88,69.77 L186.23,70.38 L184.58,71.07 L182.93,71.83 L181.31,72.67 L179.72,73.58 L178.18,74.58 L176.69,75.66 L175.29,76.82 L173.97,78.06 L172.76,79.37 L171.68,80.75 L170.73,82.19 L169.94,83.70 L169.31,85.24 L168.85,86.82 L168.57,88.43 L168.48,90.05 L168.57,91.67 L168.85,93.28 L169.31,94.86 L169.94,96.40 L170.73,97.91 L171.68,99.35 L172.76,100.73 L173.97,102.04 L175.29,103.28 L176.69,104.44 L178.18,105.52 L179.72,106.52 L181.31,107.43 L182.93,108.27 L184.58,109.03 L186.23,109.72 L187.88,110.33 L189.52,110.88 L191.15,111.36 L192.75,111.79 L194.32,112.16 L195.86,112.48 L197.36,112.76 L198.82,113.00 L200.24,113.19 L201.62,113.36 L202.96,113.49 L204.25,113.60 L205.50,113.68 L206.71,113.74 L207.88,113.78 L209.01,113.81 L210.10,113.82 L211.15,113.82 L212.17,113.81 L213.16,113.79 L214.11,113.76 L215.02,113.73 L215.91,113.69 L216.78,113.65 L217.61,113.60 L218.42,113.56 L219.21,113.51 L219.98,113.46 L220.72,113.42 L221.45,113.37 L222.16,113.33 L222.85,113.28 L223.53,113.24 L224.20,113.20 L224.85,113.17 L225.49,113.14 L226.13,113.11 L226.75,113.08 L227.37,113.06 L227.98,113.04 L228.59,113.03 L229.20,113.02 L229.80,113.01 L230.40,113.01 L231.00,113.01 L231.60,113.02 L232.21,113.03 L232.82,113.04 L233.43,113.06 L234.05,113.08 L234.67,113.11 L235.31,113.14 L235.95,113.17 L236.60,113.20 L237.27,113.24 L237.95,113.28 L238.64,113.33 L239.35,113.37 L240.08,113.42 L240.82,113.46 L241.59,113.51 L242.38,113.56 L243.19,113.60 L244.02,113.65 L244.89,113.69 L245.78,113.73 L246.69,113.76 L247.64,113.79 L248.63,113.81 L249.65,113.82 L250.70,113.82 L251.79,113.81 L252.92,113.78 L254.09,113.74 L255.30,113.68 L256.55,113.60 L257.84,113.49 L259.18,113.36 L260.56,113.19 L261.98,113.00 L263.44,112.76 L264.94,112.48 L266.48,112.16 L268.05,111.79 L269.65,111.36 L271.28,110.88 L272.92,110.33 L274.57,109.72 L276.22,109.03 L277.87,108.27 L279.49,107.43 L281.08,106.52 L282.62,105.52 L284.11,104.44 L285.51,103.28 L286.83,102.04 L288.04,100.73 L289.12,99.35 L290.07,97.91 L290.86,96.40 L291.49,94.86 L291.95,93.28 L292.23,91.67 Z" fill="none" stroke="#e99846" stroke-width="1.35"/>
<line x1="354" y1="20.80" x2="406.2" y2="20.80" stroke="#151515" stroke-width="1.3"/>
<text x="412.8" y="29.10" class="t22">κ=0</text>
<line x1="354" y1="52.60" x2="406.2" y2="52.60" stroke="#1b7676" stroke-width="1.3"/>
<text x="412.8" y="60.90" class="t22">κ=0.05</text>
<line x1="354" y1="84.40" x2="406.2" y2="84.40" stroke="#82184a" stroke-width="1.3"/>
<text x="412.8" y="92.70" class="t22">κ=0.1</text>
<line x1="354" y1="116.20" x2="406.2" y2="116.20" stroke="#d82c45" stroke-width="1.3"/>
<text x="412.8" y="124.50" class="t22">κ=0.15</text>
<line x1="354" y1="148.00" x2="406.2" y2="148.00" stroke="#e99846" stroke-width="1.3"/>
<text x="412.8" y="156.30" class="t22">κ=0.2</text>
<path d="M620.40,11.60 V350.10 H1010.72" fill="none" stroke="#111" stroke-width="1.6" stroke-linejoin="miter"/>
<line x1="612.60" y1="12.40" x2="620.40" y2="12.40" stroke="#111" stroke-width="1.6"/>
<text x="606.20" y="20.40" text-anchor="end" class="t25">80</text>
<line x1="612.60" y1="116.30" x2="620.40" y2="116.30" stroke="#111" stroke-width="1.6"/>
<text x="606.20" y="124.30" text-anchor="end" class="t25">60</text>
<line x1="612.60" y1="220.20" x2="620.40" y2="220.20" stroke="#111" stroke-width="1.6"/>
<text x="606.20" y="228.20" text-anchor="end" class="t25">40</text>
<line x1="612.60" y1="324.10" x2="620.40" y2="324.10" stroke="#111" stroke-width="1.6"/>
<text x="606.20" y="332.10" text-anchor="end" class="t25">20</text>
<line x1="616.40" y1="64.35" x2="620.40" y2="64.35" stroke="#111" stroke-width="1.6"/>
<line x1="616.40" y1="168.25" x2="620.40" y2="168.25" stroke="#111" stroke-width="1.6"/>
<line x1="616.40" y1="272.15" x2="620.40" y2="272.15" stroke="#111" stroke-width="1.6"/>
<line x1="620.40" y1="350.10" x2="620.40" y2="358.10" stroke="#111" stroke-width="1.6"/>
<text x="620.40" y="384.10" text-anchor="middle" class="t25">0</text>
<line x1="717.78" y1="350.10" x2="717.78" y2="358.10" stroke="#111" stroke-width="1.6"/>
<text x="717.78" y="384.10" text-anchor="middle" class="t25">20</text>
<line x1="815.16" y1="350.10" x2="815.16" y2="358.10" stroke="#111" stroke-width="1.6"/>
<text x="815.16" y="384.10" text-anchor="middle" class="t25">40</text>
<line x1="912.54" y1="350.10" x2="912.54" y2="358.10" stroke="#111" stroke-width="1.6"/>
<text x="912.54" y="384.10" text-anchor="middle" class="t25">60</text>
<line x1="1009.92" y1="350.10" x2="1009.92" y2="358.10" stroke="#111" stroke-width="1.6"/>
<text x="1009.92" y="384.10" text-anchor="middle" class="t25">80</text>
<line x1="669.09" y1="350.10" x2="669.09" y2="354.10" stroke="#111" stroke-width="1.6"/>
<line x1="766.47" y1="350.10" x2="766.47" y2="354.10" stroke="#111" stroke-width="1.6"/>
<line x1="863.85" y1="350.10" x2="863.85" y2="354.10" stroke="#111" stroke-width="1.6"/>
<line x1="961.23" y1="350.10" x2="961.23" y2="354.10" stroke="#111" stroke-width="1.6"/>
<text x="542.60" y="19.10" class="t26" style="font-size:25.5px">(b)</text>
<text transform="translate(561.80,169.75) rotate(-90)" text-anchor="middle" class="t26" style="font-size:26.35px">Frequency (THz)</text>
<text x="820.30" y="406.30" text-anchor="middle" class="t26"><tspan font-style="italic">k</tspan><tspan font-style="italic" font-size="20" dy="6">x</tspan><tspan dy="-6">(μm</tspan><tspan font-size="15" dy="-10">-1</tspan><tspan dy="10">)</tspan></text>
<path d="M682.96,350.08 L685.69,348.43 L688.41,346.82 L691.14,345.25 L693.86,343.71 L696.59,342.20 L699.31,340.72 L702.04,339.26 L704.76,337.84 L707.48,336.43 L710.21,335.05 L712.93,333.70 L715.66,332.36 L718.38,331.05 L721.11,329.75 L723.83,328.48 L726.56,327.22 L729.28,325.98 L732.01,324.76 L734.73,323.55 L737.46,322.36 L740.18,321.19 L742.90,320.03 L745.63,318.89 L748.35,317.76 L751.08,316.64 L753.80,315.54 L756.53,314.45 L759.25,313.37 L761.98,312.30 L764.70,311.25 L767.43,310.20 L770.15,309.17 L772.88,308.15 L775.60,307.14 L778.33,306.14 L781.05,305.15 L783.77,304.17 L786.50,303.20 L789.22,302.24 L791.95,301.28 L794.67,300.34 L797.40,299.41 L800.12,298.48 L802.85,297.56 L805.57,296.65 L808.30,295.75 L811.02,294.86 L813.75,293.97 L816.47,293.10 L819.19,292.22 L821.92,291.36 L824.64,290.50 L827.37,289.66 L830.09,288.81 L832.82,287.98 L835.54,287.15 L838.27,286.33 L840.99,285.51 L843.72,284.70 L846.44,283.90 L849.17,283.10 L851.89,282.31 L854.62,281.52 L857.34,280.74 L860.06,279.97 L862.79,279.20 L865.51,278.43 L868.24,277.68 L870.96,276.92 L873.69,276.18 L876.41,275.44 L879.14,274.70 L881.86,273.97 L884.59,273.24 L887.31,272.52 L890.04,271.80 L892.76,271.09 L895.48,270.38 L898.21,269.68 L900.93,268.98 L903.66,268.29 L906.38,267.60 L909.11,266.91 L911.83,266.23 L914.56,265.56 L917.28,264.89 L920.01,264.22 L922.73,263.55 L925.46,262.89 L928.18,262.24 L930.91,261.59 L933.63,260.94 L936.35,260.30 L939.08,259.66 L941.80,259.02 L944.53,258.39 L947.25,257.76 L949.98,257.14 L952.70,256.52 L955.43,255.90 L958.15,255.28 L960.88,254.67 L963.60,254.07 L966.33,253.46 L969.05,252.86 L971.77,252.27 L974.50,251.67 L977.22,251.08 L979.95,250.50 L982.67,249.91 L985.40,249.33 L988.12,248.76 L990.85,248.18 L993.57,247.61 L996.30,247.05 L999.02,246.48 L1001.75,245.92 L1004.47,245.36 L1007.20,244.81 L1009.92,244.25" fill="none" stroke="#151515" stroke-width="1.3"/>
<path d="M664.33,350.08 L667.21,347.62 L670.09,345.23 L672.97,342.93 L675.85,340.69 L678.73,338.51 L681.61,336.39 L684.49,334.32 L687.37,332.30 L690.25,330.33 L693.13,328.41 L696.01,326.52 L698.89,324.68 L701.77,322.87 L704.65,321.10 L707.53,319.37 L710.41,317.66 L713.29,315.99 L716.17,314.34 L719.05,312.72 L721.93,311.13 L724.81,309.57 L727.69,308.03 L730.57,306.51 L733.45,305.02 L736.33,303.55 L739.21,302.10 L742.09,300.67 L744.97,299.27 L747.85,297.88 L750.73,296.51 L753.61,295.16 L756.49,293.82 L759.37,292.50 L762.25,291.20 L765.13,289.92 L768.01,288.65 L770.89,287.40 L773.77,286.16 L776.65,284.93 L779.53,283.72 L782.41,282.53 L785.29,281.34 L788.17,280.17 L791.04,279.02 L793.92,277.87 L796.80,276.74 L799.68,275.62 L802.56,274.51 L805.44,273.41 L808.32,272.33 L811.20,271.25 L814.08,270.19 L816.96,269.13 L819.84,268.09 L822.72,267.05 L825.60,266.03 L828.48,265.01 L831.36,264.01 L834.24,263.01 L837.12,262.03 L840.00,261.05 L842.88,260.08 L845.76,259.12 L848.64,258.17 L851.52,257.23 L854.40,256.30 L857.28,255.37 L860.16,254.45 L863.04,253.54 L865.92,252.64 L868.80,251.74 L871.68,250.86 L874.56,249.98 L877.44,249.10 L880.32,248.24 L883.20,247.38 L886.08,246.53 L888.96,245.68 L891.84,244.85 L894.72,244.02 L897.60,243.19 L900.48,242.37 L903.36,241.56 L906.24,240.76 L909.12,239.96 L912.00,239.17 L914.88,238.38 L917.76,237.60 L920.64,236.83 L923.52,236.06 L926.40,235.30 L929.28,234.54 L932.16,233.79 L935.04,233.04 L937.92,232.30 L940.80,231.57 L943.68,230.84 L946.56,230.12 L949.44,229.40 L952.32,228.69 L955.20,227.98 L958.08,227.28 L960.96,226.58 L963.84,225.89 L966.72,225.20 L969.60,224.52 L972.48,223.84 L975.36,223.17 L978.24,222.50 L981.12,221.84 L984.00,221.18 L986.88,220.52 L989.76,219.87 L992.64,219.23 L995.52,218.59 L998.40,217.95 L1001.28,217.32 L1004.16,216.70 L1007.04,216.07 L1009.92,215.46" fill="none" stroke="#1b7676" stroke-width="1.3"/>
<path d="M647.93,350.08 L650.95,346.01 L653.96,342.15 L656.98,338.48 L659.99,334.96 L663.01,331.59 L666.03,328.35 L669.04,325.23 L672.06,322.21 L675.08,319.29 L678.09,316.46 L681.11,313.71 L684.13,311.04 L687.14,308.45 L690.16,305.91 L693.18,303.45 L696.19,301.04 L699.21,298.69 L702.23,296.39 L705.24,294.14 L708.26,291.94 L711.28,289.79 L714.29,287.68 L717.31,285.61 L720.33,283.59 L723.34,281.60 L726.36,279.64 L729.38,277.72 L732.39,275.84 L735.41,273.99 L738.43,272.17 L741.44,270.38 L744.46,268.62 L747.48,266.89 L750.49,265.19 L753.51,263.51 L756.53,261.86 L759.54,260.23 L762.56,258.63 L765.58,257.06 L768.59,255.50 L771.61,253.97 L774.63,252.46 L777.64,250.97 L780.66,249.50 L783.68,248.05 L786.69,246.63 L789.71,245.22 L792.73,243.83 L795.74,242.46 L798.76,241.10 L801.77,239.77 L804.79,238.45 L807.81,237.15 L810.82,235.86 L813.84,234.59 L816.86,233.34 L819.87,232.10 L822.89,230.88 L825.91,229.68 L828.92,228.48 L831.94,227.31 L834.96,226.14 L837.97,224.99 L840.99,223.86 L844.01,222.74 L847.02,221.63 L850.04,220.53 L853.06,219.45 L856.07,218.38 L859.09,217.32 L862.11,216.28 L865.12,215.25 L868.14,214.22 L871.16,213.22 L874.17,212.22 L877.19,211.23 L880.21,210.26 L883.22,209.29 L886.24,208.34 L889.26,207.40 L892.27,206.47 L895.29,205.55 L898.31,204.64 L901.32,203.74 L904.34,202.85 L907.36,201.97 L910.37,201.10 L913.39,200.24 L916.41,199.39 L919.42,198.56 L922.44,197.72 L925.46,196.90 L928.47,196.09 L931.49,195.29 L934.51,194.50 L937.52,193.71 L940.54,192.94 L943.55,192.17 L946.57,191.41 L949.59,190.67 L952.60,189.93 L955.62,189.19 L958.64,188.47 L961.65,187.76 L964.67,187.05 L967.69,186.35 L970.70,185.66 L973.72,184.98 L976.74,184.31 L979.75,183.64 L982.77,182.98 L985.79,182.33 L988.80,181.69 L991.82,181.06 L994.84,180.43 L997.85,179.81 L1000.87,179.20 L1003.89,178.59 L1006.90,178.00 L1009.92,177.41" fill="none" stroke="#d82c45" stroke-width="1.3"/>
<path d="M643.60,350.08 L646.15,345.99 L648.71,342.12 L651.26,338.43 L653.81,334.90 L656.37,331.52 L658.92,328.27 L661.47,325.13 L664.03,322.10 L666.58,319.17 L669.13,316.33 L671.69,313.58 L674.24,310.90 L676.80,308.29 L679.35,305.76 L681.90,303.28 L684.46,300.87 L687.01,298.51 L689.56,296.21 L692.12,293.95 L694.67,291.75 L697.22,289.59 L699.78,287.47 L702.33,285.40 L704.88,283.37 L707.44,281.37 L709.99,279.41 L712.55,277.49 L715.10,275.60 L717.65,273.75 L720.21,271.93 L722.76,270.13 L725.31,268.37 L727.87,266.63 L730.42,264.93 L732.97,263.25 L735.53,261.59 L738.08,259.96 L740.64,258.36 L743.19,256.78 L745.74,255.22 L748.30,253.69 L750.85,252.17 L753.40,250.68 L755.96,249.21 L758.51,247.76 L761.06,246.33 L763.62,244.92 L766.17,243.53 L768.73,242.15 L771.28,240.80 L773.83,239.46 L776.39,238.14 L778.94,236.84 L781.49,235.55 L784.05,234.28 L786.60,233.03 L789.15,231.79 L791.71,230.56 L794.26,229.35 L796.81,228.16 L799.37,226.98 L801.92,225.82 L804.48,224.67 L807.03,223.53 L809.58,222.41 L812.14,221.30 L814.69,220.20 L817.24,219.12 L819.80,218.05 L822.35,216.99 L824.90,215.94 L827.46,214.91 L830.01,213.89 L832.57,212.88 L835.12,211.88 L837.67,210.90 L840.23,209.92 L842.78,208.96 L845.33,208.00 L847.89,207.06 L850.44,206.13 L852.99,205.21 L855.55,204.30 L858.10,203.40 L860.66,202.51 L863.21,201.63 L865.76,200.76 L868.32,199.90 L870.87,199.06 L873.42,198.22 L875.98,197.39 L878.53,196.56 L881.08,195.75 L883.64,194.95 L886.19,194.16 L888.74,193.38 L891.30,192.60 L893.85,191.83 L896.41,191.08 L898.96,190.33 L901.51,189.59 L904.07,188.86 L906.62,188.14 L909.17,187.42 L911.73,186.72 L914.28,186.02 L916.83,185.33 L919.39,184.65 L921.94,183.98 L924.50,183.31 L927.05,182.66 L929.60,182.01 L932.16,181.36 L934.71,180.73 L937.26,180.11 L939.82,179.49 L942.37,178.88 L944.92,178.27 L947.48,177.68 L950.03,177.09" fill="none" stroke="#e99846" stroke-width="1.3"/>
<line x1="773.5" y1="331" x2="773.5" y2="234" stroke="#111" stroke-width="1.5" stroke-dasharray="7.2 6.2"/>
<path d="M769,234.4 L778,234.4 L773.5,225.8 Z" fill="#111"/>
<rect x="687.50" y="16.80" width="146.80" height="146.40" fill="none" stroke="#111" stroke-width="1.4"/>
<line x1="724.20" y1="163.20" x2="724.20" y2="160.20" stroke="#111" stroke-width="1.4"/>
<line x1="724.20" y1="16.80" x2="724.20" y2="19.80" stroke="#111" stroke-width="1.4"/>
<line x1="687.50" y1="126.60" x2="690.50" y2="126.60" stroke="#111" stroke-width="1.4"/>
<line x1="760.90" y1="163.20" x2="760.90" y2="158.20" stroke="#111" stroke-width="1.4"/>
<line x1="760.90" y1="16.80" x2="760.90" y2="21.80" stroke="#111" stroke-width="1.4"/>
<line x1="687.50" y1="90.00" x2="692.50" y2="90.00" stroke="#111" stroke-width="1.4"/>
<line x1="797.60" y1="163.20" x2="797.60" y2="160.20" stroke="#111" stroke-width="1.4"/>
<line x1="797.60" y1="16.80" x2="797.60" y2="19.80" stroke="#111" stroke-width="1.4"/>
<line x1="687.50" y1="53.40" x2="690.50" y2="53.40" stroke="#111" stroke-width="1.4"/>
<text x="682.50" y="23.60" text-anchor="end" class="t20">80</text>
<text x="834.30" y="185.20" text-anchor="middle" class="t20">80</text>
<text x="682.50" y="96.80" text-anchor="end" class="t20">0</text>
<text x="760.90" y="185.20" text-anchor="middle" class="t20">0</text>
<text x="682.50" y="170.00" text-anchor="end" class="t20">-80</text>
<text x="687.50" y="185.20" text-anchor="middle" class="t20">-80</text>
<text x="759.40" y="204.60" text-anchor="middle" class="t21"><tspan font-style="italic">k</tspan><tspan font-size="15" dy="5.7">x</tspan><tspan dy="-5.7">/</tspan><tspan font-style="italic">k</tspan><tspan font-size="15" dy="5.7">0</tspan></text>
<text transform="translate(658.30,87.00) rotate(-90)" text-anchor="middle" class="t21"><tspan font-style="italic">k</tspan><tspan font-size="15" dy="6">y</tspan><tspan dy="-6">/</tspan><tspan font-style="italic">k</tspan><tspan font-size="15" dy="6">0</tspan></text>
<path d="M822.82,90.00 L822.73,88.38 L822.45,86.77 L821.99,85.19 L821.36,83.65 L820.57,82.14 L819.62,80.70 L818.54,79.32 L817.33,78.01 L816.01,76.77 L814.61,75.61 L813.12,74.53 L811.58,73.53 L809.99,72.62 L808.37,71.78 L806.72,71.02 L805.07,70.33 L803.42,69.72 L801.78,69.17 L800.15,68.69 L798.55,68.26 L796.98,67.89 L795.44,67.57 L793.94,67.29 L792.48,67.05 L791.06,66.86 L789.68,66.69 L788.34,66.56 L787.05,66.45 L785.80,66.37 L784.59,66.31 L783.42,66.27 L782.29,66.24 L781.20,66.23 L780.15,66.23 L779.13,66.24 L778.14,66.26 L777.19,66.29 L776.28,66.32 L775.39,66.36 L774.52,66.40 L773.69,66.45 L772.88,66.49 L772.09,66.54 L771.32,66.59 L770.58,66.63 L769.85,66.68 L769.14,66.72 L768.45,66.77 L767.77,66.81 L767.10,66.85 L766.45,66.88 L765.81,66.91 L765.17,66.94 L764.55,66.97 L763.93,66.99 L763.32,67.01 L762.71,67.02 L762.10,67.03 L761.50,67.04 L760.90,67.04 L760.30,67.04 L759.70,67.03 L759.09,67.02 L758.48,67.01 L757.87,66.99 L757.25,66.97 L756.63,66.94 L755.99,66.91 L755.35,66.88 L754.70,66.85 L754.03,66.81 L753.35,66.77 L752.66,66.72 L751.95,66.68 L751.22,66.63 L750.48,66.59 L749.71,66.54 L748.92,66.49 L748.11,66.45 L747.28,66.40 L746.41,66.36 L745.52,66.32 L744.61,66.29 L743.66,66.26 L742.67,66.24 L741.65,66.23 L740.60,66.23 L739.51,66.24 L738.38,66.27 L737.21,66.31 L736.00,66.37 L734.75,66.45 L733.46,66.56 L732.12,66.69 L730.74,66.86 L729.32,67.05 L727.86,67.29 L726.36,67.57 L724.82,67.89 L723.25,68.26 L721.65,68.69 L720.02,69.17 L718.38,69.72 L716.73,70.33 L715.08,71.02 L713.43,71.78 L711.81,72.62 L710.22,73.53 L708.68,74.53 L707.19,75.61 L705.79,76.77 L704.47,78.01 L703.26,79.32 L702.18,80.70 L701.23,82.14 L700.44,83.65 L699.81,85.19 L699.35,86.77 L699.07,88.38 L698.98,90.00 L699.07,91.62 L699.35,93.23 L699.81,94.81 L700.44,96.35 L701.23,97.86 L702.18,99.30 L703.26,100.68 L704.47,101.99 L705.79,103.23 L707.19,104.39 L708.68,105.47 L710.22,106.47 L711.81,107.38 L713.43,108.22 L715.08,108.98 L716.73,109.67 L718.38,110.28 L720.02,110.83 L721.65,111.31 L723.25,111.74 L724.82,112.11 L726.36,112.43 L727.86,112.71 L729.32,112.95 L730.74,113.14 L732.12,113.31 L733.46,113.44 L734.75,113.55 L736.00,113.63 L737.21,113.69 L738.38,113.73 L739.51,113.76 L740.60,113.77 L741.65,113.77 L742.67,113.76 L743.66,113.74 L744.61,113.71 L745.52,113.68 L746.41,113.64 L747.28,113.60 L748.11,113.55 L748.92,113.51 L749.71,113.46 L750.48,113.41 L751.22,113.37 L751.95,113.32 L752.66,113.28 L753.35,113.23 L754.03,113.19 L754.70,113.15 L755.35,113.12 L755.99,113.09 L756.63,113.06 L757.25,113.03 L757.87,113.01 L758.48,112.99 L759.09,112.98 L759.70,112.97 L760.30,112.96 L760.90,112.96 L761.50,112.96 L762.10,112.97 L762.71,112.98 L763.32,112.99 L763.93,113.01 L764.55,113.03 L765.17,113.06 L765.81,113.09 L766.45,113.12 L767.10,113.15 L767.77,113.19 L768.45,113.23 L769.14,113.28 L769.85,113.32 L770.58,113.37 L771.32,113.41 L772.09,113.46 L772.88,113.51 L773.69,113.55 L774.52,113.60 L775.39,113.64 L776.28,113.68 L777.19,113.71 L778.14,113.74 L779.13,113.76 L780.15,113.77 L781.20,113.77 L782.29,113.76 L783.42,113.73 L784.59,113.69 L785.80,113.63 L787.05,113.55 L788.34,113.44 L789.68,113.31 L791.06,113.14 L792.48,112.95 L793.94,112.71 L795.44,112.43 L796.98,112.11 L798.55,111.74 L800.15,111.31 L801.78,110.83 L803.42,110.28 L805.07,109.67 L806.72,108.98 L808.37,108.22 L809.99,107.38 L811.58,106.47 L813.12,105.47 L814.61,104.39 L816.01,103.23 L817.33,101.99 L818.54,100.68 L819.62,99.30 L820.57,97.86 L821.36,96.35 L821.99,94.81 L822.45,93.23 L822.73,91.62 Z" fill="none" stroke="#151515" stroke-width="1.35"/>
<path d="M814.53,59.04 L813.64,57.68 L812.59,56.43 L811.40,55.29 L810.08,54.27 L808.65,53.36 L807.10,52.58 L805.47,51.93 L803.77,51.40 L802.01,50.98 L800.22,50.68 L798.39,50.49 L796.56,50.40 L794.72,50.40 L792.90,50.49 L791.09,50.65 L789.32,50.88 L787.58,51.18 L785.89,51.52 L784.24,51.92 L782.64,52.35 L781.09,52.81 L779.60,53.30 L778.16,53.81 L776.78,54.34 L775.45,54.88 L774.17,55.43 L772.95,55.98 L771.77,56.53 L770.65,57.09 L769.57,57.64 L768.54,58.19 L767.55,58.73 L766.60,59.27 L765.68,59.79 L764.81,60.31 L763.97,60.82 L763.16,61.32 L762.38,61.81 L761.63,62.29 L760.90,62.75 L760.20,63.21 L759.52,63.65 L758.86,64.09 L758.22,64.51 L757.60,64.92 L756.99,65.33 L756.40,65.72 L755.82,66.11 L755.25,66.48 L754.70,66.85 L754.15,67.20 L753.61,67.55 L753.07,67.89 L752.54,68.23 L752.02,68.56 L751.50,68.88 L750.98,69.20 L750.46,69.51 L749.94,69.81 L749.42,70.12 L748.90,70.41 L748.37,70.71 L747.84,71.00 L747.31,71.30 L746.77,71.59 L746.22,71.88 L745.67,72.17 L745.11,72.46 L744.53,72.75 L743.95,73.05 L743.35,73.35 L742.75,73.65 L742.12,73.96 L741.49,74.28 L740.83,74.60 L740.17,74.94 L739.48,75.28 L738.77,75.63 L738.05,76.00 L737.30,76.38 L736.54,76.77 L735.75,77.18 L734.93,77.62 L734.10,78.07 L733.24,78.54 L732.35,79.04 L731.44,79.57 L730.50,80.12 L729.53,80.71 L728.54,81.33 L727.52,81.99 L726.48,82.68 L725.41,83.42 L724.32,84.21 L723.21,85.04 L722.08,85.92 L720.93,86.85 L719.77,87.84 L718.60,88.89 L717.42,90.00 L716.25,91.17 L715.09,92.40 L713.94,93.70 L712.82,95.05 L711.73,96.47 L710.68,97.95 L709.70,99.49 L708.78,101.08 L707.94,102.72 L707.19,104.39 L706.55,106.10 L706.03,107.83 L705.64,109.57 L705.40,111.31 L705.30,113.03 L705.36,114.73 L705.59,116.38 L705.98,117.98 L706.54,119.51 L707.27,120.96 L708.16,122.32 L709.21,123.57 L710.40,124.71 L711.72,125.73 L713.15,126.64 L714.70,127.42 L716.33,128.07 L718.03,128.60 L719.79,129.02 L721.58,129.32 L723.41,129.51 L725.24,129.60 L727.08,129.60 L728.90,129.51 L730.71,129.35 L732.48,129.12 L734.22,128.82 L735.91,128.48 L737.56,128.08 L739.16,127.65 L740.71,127.19 L742.20,126.70 L743.64,126.19 L745.02,125.66 L746.35,125.12 L747.63,124.57 L748.85,124.02 L750.03,123.47 L751.15,122.91 L752.23,122.36 L753.26,121.81 L754.25,121.27 L755.20,120.73 L756.12,120.21 L756.99,119.69 L757.83,119.18 L758.64,118.68 L759.42,118.19 L760.17,117.71 L760.90,117.25 L761.60,116.79 L762.28,116.35 L762.94,115.91 L763.58,115.49 L764.20,115.08 L764.81,114.67 L765.40,114.28 L765.98,113.89 L766.55,113.52 L767.10,113.15 L767.65,112.80 L768.19,112.45 L768.73,112.11 L769.26,111.77 L769.78,111.44 L770.30,111.12 L770.82,110.80 L771.34,110.49 L771.86,110.19 L772.38,109.88 L772.90,109.59 L773.43,109.29 L773.96,109.00 L774.49,108.70 L775.03,108.41 L775.58,108.12 L776.13,107.83 L776.69,107.54 L777.27,107.25 L777.85,106.95 L778.45,106.65 L779.05,106.35 L779.68,106.04 L780.31,105.72 L780.97,105.40 L781.63,105.06 L782.32,104.72 L783.03,104.37 L783.75,104.00 L784.50,103.62 L785.26,103.23 L786.05,102.82 L786.87,102.38 L787.70,101.93 L788.56,101.46 L789.45,100.96 L790.36,100.43 L791.30,99.88 L792.27,99.29 L793.26,98.67 L794.28,98.01 L795.32,97.32 L796.39,96.58 L797.48,95.79 L798.59,94.96 L799.72,94.08 L800.87,93.15 L802.03,92.16 L803.20,91.11 L804.38,90.00 L805.55,88.83 L806.71,87.60 L807.86,86.30 L808.98,84.95 L810.07,83.53 L811.12,82.05 L812.10,80.51 L813.02,78.92 L813.86,77.28 L814.61,75.61 L815.25,73.90 L815.77,72.17 L816.16,70.43 L816.40,68.69 L816.50,66.97 L816.44,65.27 L816.21,63.62 L815.82,62.02 L815.26,60.49 Z" fill="none" stroke="#1b7676" stroke-width="1.35"/>
<path d="M791.86,36.37 L790.41,35.64 L788.88,35.08 L787.28,34.69 L785.63,34.46 L783.93,34.40 L782.21,34.50 L780.47,34.74 L778.73,35.13 L777.00,35.65 L775.29,36.29 L773.62,37.04 L771.98,37.88 L770.39,38.80 L768.85,39.78 L767.37,40.83 L765.95,41.92 L764.60,43.04 L763.30,44.19 L762.07,45.35 L760.90,46.52 L759.79,47.70 L758.74,48.87 L757.75,50.03 L756.82,51.18 L755.94,52.31 L755.11,53.42 L754.32,54.51 L753.58,55.58 L752.89,56.62 L752.23,57.64 L751.61,58.63 L751.02,59.60 L750.47,60.54 L749.94,61.45 L749.44,62.34 L748.97,63.20 L748.52,64.03 L748.08,64.85 L747.67,65.64 L747.28,66.40 L746.90,67.15 L746.53,67.87 L746.18,68.58 L745.84,69.27 L745.50,69.93 L745.18,70.59 L744.86,71.22 L744.55,71.85 L744.25,72.45 L743.95,73.05 L743.65,73.63 L743.36,74.21 L743.07,74.77 L742.78,75.32 L742.49,75.87 L742.20,76.41 L741.90,76.94 L741.61,77.47 L741.31,78.00 L741.02,78.52 L740.71,79.04 L740.41,79.56 L740.10,80.08 L739.78,80.60 L739.46,81.12 L739.13,81.64 L738.79,82.17 L738.45,82.71 L738.10,83.25 L737.75,83.80 L737.38,84.35 L737.01,84.92 L736.62,85.50 L736.23,86.09 L735.82,86.70 L735.41,87.32 L734.99,87.96 L734.55,88.62 L734.11,89.30 L733.65,90.00 L733.19,90.73 L732.71,91.48 L732.22,92.26 L731.72,93.07 L731.21,93.91 L730.69,94.78 L730.17,95.70 L729.63,96.65 L729.09,97.64 L728.54,98.67 L727.99,99.75 L727.43,100.87 L726.88,102.05 L726.33,103.27 L725.78,104.55 L725.24,105.88 L724.71,107.26 L724.20,108.70 L723.71,110.19 L723.25,111.74 L722.82,113.34 L722.42,114.99 L722.08,116.68 L721.78,118.42 L721.55,120.19 L721.39,122.00 L721.30,123.82 L721.30,125.66 L721.39,127.49 L721.58,129.32 L721.88,131.11 L722.30,132.87 L722.83,134.57 L723.48,136.20 L724.26,137.75 L725.17,139.18 L726.19,140.50 L727.33,141.69 L728.58,142.74 L729.94,143.63 L731.39,144.36 L732.92,144.92 L734.52,145.31 L736.17,145.54 L737.87,145.60 L739.59,145.50 L741.33,145.26 L743.07,144.87 L744.80,144.35 L746.51,143.71 L748.18,142.96 L749.82,142.12 L751.41,141.20 L752.95,140.22 L754.43,139.17 L755.85,138.08 L757.20,136.96 L758.50,135.81 L759.73,134.65 L760.90,133.48 L762.01,132.30 L763.06,131.13 L764.05,129.97 L764.98,128.82 L765.86,127.69 L766.69,126.58 L767.48,125.49 L768.22,124.42 L768.91,123.38 L769.57,122.36 L770.19,121.37 L770.78,120.40 L771.33,119.46 L771.86,118.55 L772.36,117.66 L772.83,116.80 L773.28,115.97 L773.72,115.15 L774.13,114.36 L774.52,113.60 L774.90,112.85 L775.27,112.13 L775.62,111.42 L775.96,110.73 L776.30,110.07 L776.62,109.41 L776.94,108.78 L777.25,108.15 L777.55,107.55 L777.85,106.95 L778.15,106.37 L778.44,105.79 L778.73,105.23 L779.02,104.68 L779.31,104.13 L779.60,103.59 L779.90,103.06 L780.19,102.53 L780.49,102.00 L780.78,101.48 L781.09,100.96 L781.39,100.44 L781.70,99.92 L782.02,99.40 L782.34,98.88 L782.67,98.36 L783.01,97.83 L783.35,97.29 L783.70,96.75 L784.05,96.20 L784.42,95.65 L784.79,95.08 L785.18,94.50 L785.57,93.91 L785.98,93.30 L786.39,92.68 L786.81,92.04 L787.25,91.38 L787.69,90.70 L788.15,90.00 L788.61,89.27 L789.09,88.52 L789.58,87.74 L790.08,86.93 L790.59,86.09 L791.11,85.22 L791.63,84.30 L792.17,83.35 L792.71,82.36 L793.26,81.33 L793.81,80.25 L794.37,79.13 L794.92,77.95 L795.47,76.73 L796.02,75.45 L796.56,74.12 L797.09,72.74 L797.60,71.30 L798.09,69.81 L798.55,68.26 L798.98,66.66 L799.38,65.01 L799.72,63.32 L800.02,61.58 L800.25,59.81 L800.41,58.00 L800.50,56.18 L800.50,54.34 L800.41,52.51 L800.22,50.68 L799.92,48.89 L799.50,47.13 L798.97,45.43 L798.32,43.80 L797.54,42.25 L796.63,40.82 L795.61,39.50 L794.47,38.31 L793.22,37.26 Z" fill="none" stroke="#d82c45" stroke-width="1.35"/>
<path d="M760.90,28.08 L759.28,28.17 L757.67,28.45 L756.09,28.91 L754.55,29.54 L753.04,30.33 L751.60,31.28 L750.22,32.36 L748.91,33.57 L747.67,34.89 L746.51,36.29 L745.43,37.78 L744.43,39.32 L743.52,40.91 L742.68,42.53 L741.92,44.18 L741.23,45.83 L740.62,47.48 L740.07,49.12 L739.59,50.75 L739.16,52.35 L738.79,53.92 L738.47,55.46 L738.19,56.96 L737.95,58.42 L737.76,59.84 L737.59,61.22 L737.46,62.56 L737.35,63.85 L737.27,65.10 L737.21,66.31 L737.17,67.48 L737.14,68.61 L737.13,69.70 L737.13,70.75 L737.14,71.77 L737.16,72.76 L737.19,73.71 L737.22,74.62 L737.26,75.51 L737.30,76.38 L737.35,77.21 L737.39,78.02 L737.44,78.81 L737.49,79.58 L737.53,80.32 L737.58,81.05 L737.62,81.76 L737.67,82.45 L737.71,83.13 L737.75,83.80 L737.78,84.45 L737.81,85.09 L737.84,85.73 L737.87,86.35 L737.89,86.97 L737.91,87.58 L737.92,88.19 L737.93,88.80 L737.94,89.40 L737.94,90.00 L737.94,90.60 L737.93,91.20 L737.92,91.81 L737.91,92.42 L737.89,93.03 L737.87,93.65 L737.84,94.27 L737.81,94.91 L737.78,95.55 L737.75,96.20 L737.71,96.87 L737.67,97.55 L737.62,98.24 L737.58,98.95 L737.53,99.68 L737.49,100.42 L737.44,101.19 L737.39,101.98 L737.35,102.79 L737.30,103.62 L737.26,104.49 L737.22,105.38 L737.19,106.29 L737.16,107.24 L737.14,108.23 L737.13,109.25 L737.13,110.30 L737.14,111.39 L737.17,112.52 L737.21,113.69 L737.27,114.90 L737.35,116.15 L737.46,117.44 L737.59,118.78 L737.76,120.16 L737.95,121.58 L738.19,123.04 L738.47,124.54 L738.79,126.08 L739.16,127.65 L739.59,129.25 L740.07,130.88 L740.62,132.52 L741.23,134.17 L741.92,135.82 L742.68,137.47 L743.52,139.09 L744.43,140.68 L745.43,142.22 L746.51,143.71 L747.67,145.11 L748.91,146.43 L750.22,147.64 L751.60,148.72 L753.04,149.67 L754.55,150.46 L756.09,151.09 L757.67,151.55 L759.28,151.83 L760.90,151.92 L762.52,151.83 L764.13,151.55 L765.71,151.09 L767.25,150.46 L768.76,149.67 L770.20,148.72 L771.58,147.64 L772.89,146.43 L774.13,145.11 L775.29,143.71 L776.37,142.22 L777.37,140.68 L778.28,139.09 L779.12,137.47 L779.88,135.82 L780.57,134.17 L781.18,132.52 L781.73,130.88 L782.21,129.25 L782.64,127.65 L783.01,126.08 L783.33,124.54 L783.61,123.04 L783.85,121.58 L784.04,120.16 L784.21,118.78 L784.34,117.44 L784.45,116.15 L784.53,114.90 L784.59,113.69 L784.63,112.52 L784.66,111.39 L784.67,110.30 L784.67,109.25 L784.66,108.23 L784.64,107.24 L784.61,106.29 L784.58,105.38 L784.54,104.49 L784.50,103.62 L784.45,102.79 L784.41,101.98 L784.36,101.19 L784.31,100.42 L784.27,99.68 L784.22,98.95 L784.18,98.24 L784.13,97.55 L784.09,96.87 L784.05,96.20 L784.02,95.55 L783.99,94.91 L783.96,94.27 L783.93,93.65 L783.91,93.03 L783.89,92.42 L783.88,91.81 L783.87,91.20 L783.86,90.60 L783.86,90.00 L783.86,89.40 L783.87,88.80 L783.88,88.19 L783.89,87.58 L783.91,86.97 L783.93,86.35 L783.96,85.73 L783.99,85.09 L784.02,84.45 L784.05,83.80 L784.09,83.13 L784.13,82.45 L784.18,81.76 L784.22,81.05 L784.27,80.32 L784.31,79.58 L784.36,78.81 L784.41,78.02 L784.45,77.21 L784.50,76.38 L784.54,75.51 L784.58,74.62 L784.61,73.71 L784.64,72.76 L784.66,71.77 L784.67,70.75 L784.67,69.70 L784.66,68.61 L784.63,67.48 L784.59,66.31 L784.53,65.10 L784.45,63.85 L784.34,62.56 L784.21,61.22 L784.04,59.84 L783.85,58.42 L783.61,56.96 L783.33,55.46 L783.01,53.92 L782.64,52.35 L782.21,50.75 L781.73,49.12 L781.18,47.48 L780.57,45.83 L779.88,44.18 L779.12,42.53 L778.28,40.91 L777.37,39.32 L776.37,37.78 L775.29,36.29 L774.13,34.89 L772.89,33.57 L771.58,32.36 L770.20,31.28 L768.76,30.33 L767.25,29.54 L765.71,28.91 L764.13,28.45 L762.52,28.17 Z" fill="none" stroke="#e99846" stroke-width="1.35"/>
<line x1="883.7" y1="24.70" x2="936.3" y2="24.70" stroke="#151515" stroke-width="1.3"/>
<text x="943" y="32.70" class="t22">θ=0°</text>
<line x1="883.7" y1="56.50" x2="936.3" y2="56.50" stroke="#1b7676" stroke-width="1.3"/>
<text x="943" y="64.50" class="t22">θ=30°</text>
<line x1="883.7" y1="88.30" x2="936.3" y2="88.30" stroke="#d82c45" stroke-width="1.3"/>
<text x="943" y="96.30" class="t22">θ=60°</text>
<line x1="883.7" y1="120.10" x2="936.3" y2="120.10" stroke="#e99846" stroke-width="1.3"/>
<text x="943" y="128.10" class="t22">θ=90°</text>
</svg>
</body></html>
